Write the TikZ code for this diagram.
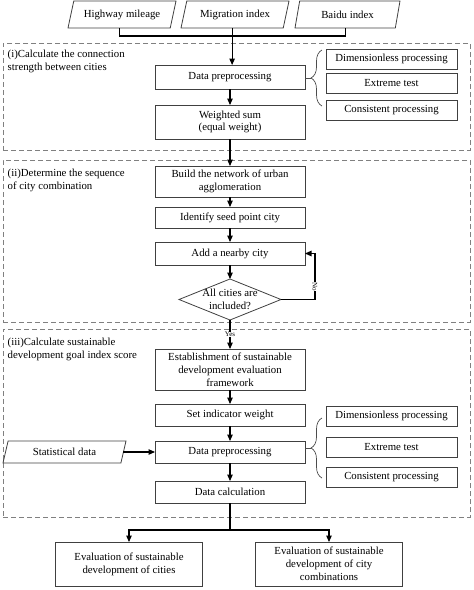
\documentclass[tikz,border=0pt]{standalone}
\usepackage{fontspec}
\setmainfont{Liberation Serif}
\usetikzlibrary{arrows.meta,positioning,shapes.geometric,decorations.pathreplacing}

\begin{document}
\begin{tikzpicture}[
  x=1pt, y=-1pt,
  font=\fontsize{10.8}{12.8}\selectfont,
  box/.style={rectangle, draw=black!75, line width=0.8pt, outer sep=0pt, minimum width=150pt, minimum height=22pt, align=center, inner sep=2pt},
  sidebox/.style={rectangle, draw=black!75, line width=0.8pt, outer sep=0pt, minimum width=131pt, minimum height=20pt, inner sep=1pt},
  datain/.style={trapezium, trapezium left angle=64, trapezium right angle=116, trapezium stretches body, draw=black!75, line width=0.8pt, outer sep=0pt, minimum width=108pt, minimum height=27pt, inner sep=1pt},
  decision/.style={diamond, draw=black!75, line width=0.8pt, outer sep=0pt, minimum width=102pt, minimum height=41pt, inner sep=0pt},
  group/.style={rectangle, draw=black!50, dash pattern=on 5pt off 3pt, line width=0.9pt},
  grouplabel/.style={anchor=north west, align=left, inner sep=0pt},
  brace/.style={decorate, decoration={brace, amplitude=11pt}, line width=0.7pt, draw=black!70},
  arrow/.style={-{Triangle[length=6.5pt,width=5.5pt]}, line width=1.1pt},
  link/.style={line width=1.1pt},
  tag/.style={font=\fontsize{7}{8}\selectfont, fill=white, inner sep=0.5pt},
]
\useasboundingbox (0,0) rectangle (474,590);

% Section frames
\node[group, minimum width=467pt, minimum height=107pt] (g1) at (236.5,96.5) {};
\node[group, minimum width=467pt, minimum height=162pt] (g2) at (236.5,241) {};
\node[group, minimum width=467pt, minimum height=188pt] (g3) at (236.5,423) {};
\node[grouplabel] (l1) at ([xshift=5pt,yshift=-7pt]g1.north west) {(i)Calculate the connection\\strength between cities};
\node[grouplabel] (l2) at ([xshift=5pt,yshift=-9pt]g2.north west) {(ii)Determine the sequence\\of city combination};
\node[grouplabel] (l3) at ([xshift=5pt,yshift=-9pt]g3.north west) {(iii)Calculate sustainable\\development goal index score};

% Inputs
\node[datain] (hw) at (122,14.5) {Highway mileage};
\node[datain] (mig) at (235,14.5) {Migration index};
\node[datain, minimum width=105pt] (bd) at (347.5,14.5) {Baidu index};

% Section (i)
\node[box, minimum height=24pt] (prep1) at (230,77) {Data preprocessing};
\node[box, minimum height=34pt, below=16pt of prep1] (wsum) {Weighted sum\\(equal weight)};
\draw[link] (hw.bottom side) -- ++(0,8) -| (bd.bottom side);
\draw[arrow] (mig.bottom side) -- (mig.bottom side |- prep1.north);
\draw[arrow] (prep1) -- (wsum);

\node[sidebox] (ext1) at (391.5,83) {Extreme test};
\node[sidebox, above=4pt of ext1] (dim1) {Dimensionless processing};
\node[sidebox, below=7pt of ext1] (con1) {Consistent processing};
\draw[brace] (322,106) -- (322,50);
\coordinate (tip1) at (311,78);
\draw[line width=0.7pt, draw=black!70] (prep1.east |- tip1) -- (tip1);

% Section (ii)
\node[box, minimum height=31pt, below=27pt of wsum] (net) {Build the network of urban\\agglomeration};
\node[box, minimum height=21pt, below=10pt of net] (seed) {Identify seed point city};
\node[box, minimum height=23pt, below=14pt of seed] (add) {Add a nearby city};
\node[decision, below=14pt of add, label={[align=center, inner sep=0pt]center:All cities are\\included?}] (dia) {};
\draw[arrow] (wsum) -- (net);
\draw[arrow] (net) -- (seed);
\draw[arrow] (seed) -- (add);
\draw[arrow] (add) -- (dia);
\draw[arrow] (dia.east) -- ++(34,0) |- node[tag, rotate=-90, pos=0.14] {No} (add.east);

% Section (iii)
\node[box, minimum height=41pt, below=29pt of dia] (est) {Establishment of sustainable\\development evaluation\\framework};
\node[box, below=14pt of est] (setw) {Set indicator weight};
\node[box, below=15pt of setw] (prep2) {Data preprocessing};
\node[box, below=18pt of prep2] (calc) {Data calculation};
\node[datain, minimum width=123pt, minimum height=22pt, trapezium left angle=62, trapezium right angle=118] (stat) at (64.5,452) {Statistical data};
\draw[arrow] (dia) -- node[tag] {Yes} (est);
\draw[arrow] (est) -- (setw);
\draw[arrow] (setw) -- (prep2);
\draw[arrow] (prep2) -- (calc);
\draw[arrow] (stat.right side) -- (prep2.west);

\node[sidebox] (ext2) at (391.5,447) {Extreme test};
\node[sidebox, above=11pt of ext2] (dim2) {Dimensionless processing};
\node[sidebox, below=10.5pt of ext2] (con2) {Consistent processing};
\draw[brace] (322,478) -- (322,418);
\coordinate (tip2) at (311,448);
\draw[line width=0.7pt, draw=black!70] (prep2.east |- tip2) -- (tip2);

% Results
\node[box, minimum width=147pt, minimum height=44pt, below=39pt of calc, xshift=-101pt] (ev1) {Evaluation of sustainable\\development of cities};
\node[box, minimum width=147pt, minimum height=44pt, below=39pt of calc, xshift=99pt] (ev2) {Evaluation of sustainable\\development of city\\combinations};
\draw[link] (calc.south) -- ++(0,27) coordinate (split);
\draw[arrow] (split) -| (ev1.north);
\draw[arrow] (split) -| (ev2.north);

\end{tikzpicture}
\end{document}
